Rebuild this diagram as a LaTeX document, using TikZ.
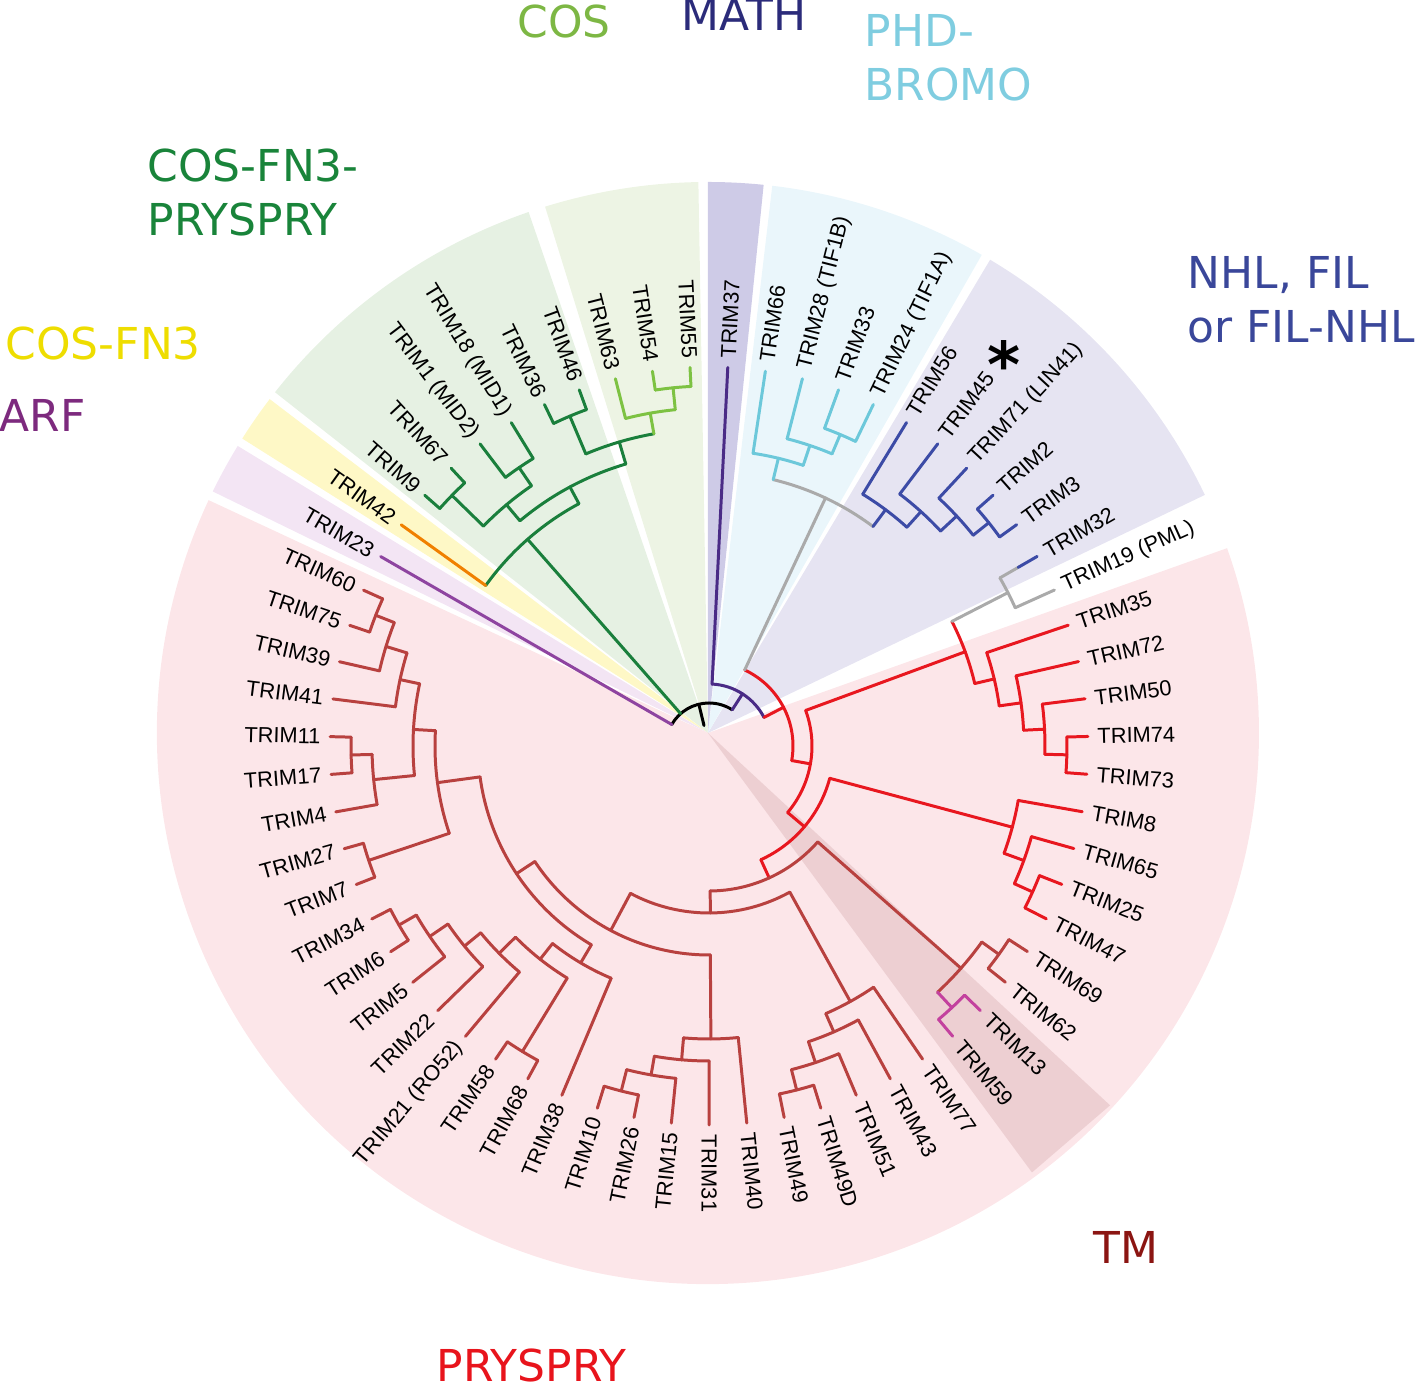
\documentclass[tikz,border=0pt]{standalone}
\usepackage{fontspec}
\setmainfont{Liberation Sans}
\newfontfamily\bigfont{DejaVu Sans}
\usetikzlibrary{calc}

\definecolor{bgpink}{HTML}{FCE6E9}
\definecolor{bgtm}{HTML}{EDCFD2}
\definecolor{bgarf}{HTML}{F3E5F4}
\definecolor{bgyel}{HTML}{FEF8C6}
\definecolor{bggrn}{HTML}{E6F1E3}
\definecolor{bgcos}{HTML}{EDF4E4}
\definecolor{bgmath}{HTML}{CECBE7}
\definecolor{bgphd}{HTML}{EAF6FB}
\definecolor{bgnhl}{HTML}{E6E4F2}
\definecolor{cgrn}{HTML}{1A7F3C}
\definecolor{clgrn}{HTML}{7DC242}
\definecolor{corg}{HTML}{F08000}
\definecolor{carf}{HTML}{8E44A0}
\definecolor{cmath}{HTML}{4A2B86}
\definecolor{ccyan}{HTML}{6CC8DA}
\definecolor{cgray}{HTML}{AAAAAA}
\definecolor{cblue}{HTML}{3C4BA6}
\definecolor{cred}{HTML}{E8171F}
\definecolor{cdred}{HTML}{B8413F}
\definecolor{cmag}{HTML}{C3419E}
\definecolor{tcos}{HTML}{7DB744}
\definecolor{tmath}{HTML}{2B2B7A}
\definecolor{tphd}{HTML}{7FCDE0}
\definecolor{tgrn}{HTML}{19843A}
\definecolor{tyel}{HTML}{EEDD00}
\definecolor{tarf}{HTML}{7D2A7E}
\definecolor{tnhl}{HTML}{3A479A}
\definecolor{ttm}{HTML}{8B1512}
\definecolor{tred}{HTML}{E8141C}

\tikzset{
	br/.style={line width=0.85pt, line cap=round},
	lbl/.style={inner sep=0pt, font=\fontsize{6.2}{7}\selectfont},
	group/.style={inner sep=0pt, align=left, font=\bigfont\fontsize{12.5}{15.4}\selectfont}
}

% leaf k sits at angle 92.87 - k*360/63
\def\kang#1{92.87-5.7143*(#1)}
\def\sector#1#2#3{\fill[#1] (W) -- ++(#2:551) arc[start angle=#2, end angle=#3, radius=551] -- cycle;}
\newcommand\clade[4][]{\pgfmathsetmacro\ca{\kang{#2}}\pgfmathsetmacro\cb{\kang{#3}}\draw[br,#1] (\ca:#4) arc[start angle=\ca, end angle=\cb, radius=#4];}
\newcommand\stem[4][]{\pgfmathsetmacro\sa{\kang{#2}}\draw[br,#1] (\sa:#3) -- (\sa:#4);}
\newcommand\leaf[5][]{\pgfmathsetmacro\la{\kang{#2}}\pgfmathtruncatemacro\rs{cos(\la)>0}%
	\draw[br,#1] (\la:#3) -- (\la:379) coordinate (#4tip);%
	\ifnum\rs=1 \node[lbl, rotate=\la, anchor=west] (#4) at (\la:388) {#5};%
	\else \node[lbl, rotate=\la+180, anchor=east] (#4) at (\la:388) {#5};\fi}

\begin{document}
\begin{tikzpicture}[x=0.01cm, y=0.01cm]
		%%%%% START %%%%%
		\useasboundingbox (-709,-642) rectangle (708,746);
		\coordinate (W) at (-1,13);
		
		\sector{bgnhl}{25.6}{59.2}
		\sector{bgphd}{60.2}{83.3}
		\sector{bgmath}{84.2}{90.0}
		\sector{bgcos}{91.0}{107.2}
		\sector{bggrn}{109.0}{141.8}
		\sector{bgyel}{142.7}{147.7}
		\sector{bgarf}{148.6}{154.0}
		\sector{bgpink}{155.0}{379.6}
		\fill[bgtm] (W) -- ($(W)+(-53.6:546)$) -- ($(W)+(-42.8:548)$) -- cycle;
		
		% root
		\clade[black]{53}{69.227}{43}
		\stem[black]{61.11}{21}{43}
		\leaf[carf]{53}{43}{TRIM23}{TRIM23}
		
		% COS-FN3, COS-FN3-PRYSPRY, COS
		\stem[cgrn]{56.28}{43}{275}
		\clade[cgrn]{54}{58.5625}{275}
		\leaf[corg]{54}{275}{TRIM42}{TRIM42}
		\stem[cgrn]{58.5625}{275}{294}
		\clade[cgrn]{56.5}{60.625}{294}
		\stem[cgrn]{56.5}{294}{315}
		\clade[cgrn]{55.5}{57.5}{315}
		\stem[cgrn]{55.5}{315}{359}
		\clade[cgrn]{55}{56}{359}
		\leaf[cgrn]{55}{359}{TRIM9}{TRIM9}
		\leaf[cgrn]{56}{359}{TRIM67}{TRIM67}
		\stem[cgrn]{57.5}{315}{337}
		\clade[cgrn]{57}{58}{337}
		\leaf[cgrn]{57}{337}{TRIM1}{TRIM1 (MID2)}
		\leaf[cgrn]{58}{337}{TRIM18}{TRIM18 (MID1)}
		\stem[cgrn]{60.625}{294}{317}
		\clade[cgrn]{59.5}{61.75}{317}
		\stem[cgrn]{59.5}{317}{358}
		\clade[cgrn]{59}{60}{358}
		\leaf[cgrn]{59}{358}{TRIM36}{TRIM36}
		\leaf[cgrn]{60}{358}{TRIM46}{TRIM46}
		\stem[clgrn]{61.75}{317}{338}
		\clade[clgrn]{61}{62.5}{338}
		\leaf[clgrn]{61}{338}{TRIM63}{TRIM63}
		\stem[clgrn]{62.5}{338}{360}
		\clade[clgrn]{62}{63}{360}
		\leaf[clgrn]{62}{360}{TRIM54}{TRIM54}
		\leaf[clgrn]{63}{360}{TRIM55}{TRIM55}
		
		% MATH
		\stem[cmath]{69.227}{43}{62}
		\clade[cmath]{1}{11.45}{62}
		\leaf[cmath]{1}{62}{TRIM37}{TRIM37}
		\stem[cred]{11.45}{62}{84}
		\clade[cred]{4.906}{18}{84}
		\stem[cgray]{4.906}{84}{274}
		\clade[cgray]{2.875}{6.9375}{274}
		
		% PHD-BROMO
		\stem[ccyan]{2.875}{274}{296}
		\clade[ccyan]{2}{3.75}{296}
		\leaf[ccyan]{2}{296}{TRIM66}{TRIM66}
		\stem[ccyan]{3.75}{296}{317}
		\clade[ccyan]{3}{4.5}{317}
		\leaf[ccyan]{3}{317}{TRIM28}{TRIM28 (TIF1B)}
		\stem[ccyan]{4.5}{317}{338}
		\clade[ccyan]{4}{5}{338}
		\leaf[ccyan]{4}{338}{TRIM33}{TRIM33}
		\leaf[ccyan]{5}{338}{TRIM24}{TRIM24 (TIF1A)}
		
		% NHL, FIL
		\stem[cblue]{6.9375}{274}{295}
		\clade[cblue]{6}{7.875}{295}
		\leaf[cblue]{6}{295}{TRIM56}{TRIM56}
		\stem[cblue]{7.875}{295}{316}
		\clade[cblue]{7}{8.75}{316}
		\leaf[cblue]{7}{316}{TRIM45}{TRIM45}
		\stem[cblue]{8.75}{316}{338}
		\clade[cblue]{8}{9.5}{338}
		\leaf[cblue]{8}{338}{TRIM71}{TRIM71 (LIN41)}
		\stem[cblue]{9.5}{338}{358}
		\clade[cblue]{9}{10}{358}
		\leaf[cblue]{9}{358}{TRIM2}{TRIM2}
		\leaf[cblue]{10}{358}{TRIM3}{TRIM3}
		
		% PRYSPRY
		\stem[cred]{18}{84}{103}
		\clade[cred]{12.71875}{23.29}{103}
		\stem[cred]{12.71875}{103}{273}
		\clade[cred]{11.5}{13.9375}{273}
		\stem[cgray]{11.5}{273}{336}
		\clade[cgray]{11}{12}{336}
		\stem[cgray]{11}{336}{357}
		\leaf[cblue]{11}{357}{TRIM32}{TRIM32}
		\leaf[cgray]{12}{336}{TRIM19}{TRIM19 (PML)}
		\stem[cred]{13.9375}{273}{293}
		\clade[cred]{13}{14.875}{293}
		\leaf[cred]{13}{293}{TRIM35}{TRIM35}
		\stem[cred]{14.875}{293}{315}
		\clade[cred]{14}{15.75}{315}
		\leaf[cred]{14}{315}{TRIM72}{TRIM72}
		\stem[cred]{15.75}{315}{336}
		\clade[cred]{15}{16.5}{336}
		\leaf[cred]{15}{336}{TRIM50}{TRIM50}
		\stem[cred]{16.5}{336}{358}
		\clade[cred]{16}{17}{358}
		\leaf[cred]{16}{358}{TRIM74}{TRIM74}
		\leaf[cred]{17}{358}{TRIM73}{TRIM73}
		\stem[cred]{23.29}{103}{125}
		\clade[cred]{18.875}{27.71}{125}
		\stem[cred]{18.875}{125}{314}
		\clade[cred]{18}{19.75}{314}
		\leaf[cred]{18}{314}{TRIM8}{TRIM8}
		\stem[cred]{19.75}{314}{335}
		\clade[cred]{19}{20.5}{335}
		\leaf[cred]{19}{335}{TRIM65}{TRIM65}
		\stem[cred]{20.5}{335}{355}
		\clade[cred]{20}{21}{355}
		\leaf[cred]{20}{355}{TRIM25}{TRIM25}
		\leaf[cred]{21}{355}{TRIM47}{TRIM47}
		\stem[cred]{27.71}{125}{145}
		\clade[cdred]{23.5}{31.92}{145}
		
		% TM
		\stem[cdred]{23.5}{145}{336}
		\clade[cdred]{22.5}{24.5}{336}
		\stem[cdred]{22.5}{336}{357}
		\clade[cdred]{22}{23}{357}
		\leaf[cdred]{22}{357}{TRIM69}{TRIM69}
		\leaf[cdred]{23}{357}{TRIM62}{TRIM62}
		\stem[cmag]{24.5}{336}{357}
		\clade[cmag]{24}{25}{357}
		\leaf[cmag]{24}{357}{TRIM13}{TRIM13}
		\leaf[cmag]{25}{357}{TRIM59}{TRIM59}
		
		\stem[cdred]{31.92}{145}{167}
		\clade[cdred]{26.9375}{36.91}{167}
		\stem[cdred]{26.9375}{167}{292}
		\clade[cdred]{26}{27.875}{292}
		\leaf[cdred]{26}{292}{TRIM77}{TRIM77}
		\stem[cdred]{27.875}{292}{312}
		\clade[cdred]{27}{28.75}{312}
		\leaf[cdred]{27}{312}{TRIM43}{TRIM43}
		\stem[cdred]{28.75}{312}{334}
		\clade[cdred]{28}{29.5}{334}
		\leaf[cdred]{28}{334}{TRIM51}{TRIM51}
		\stem[cdred]{29.5}{334}{355}
		\clade[cdred]{29}{30}{355}
		\leaf[cdred]{29}{355}{TRIM49D}{TRIM49D}
		\leaf[cdred]{30}{355}{TRIM49}{TRIM49}
		
		\stem[cdred]{36.91}{167}{209}
		\clade[cdred]{31.9375}{41.88}{209}
		\stem[cdred]{31.9375}{209}{293}
		\clade[cdred]{31}{32.875}{293}
		\leaf[cdred]{31}{293}{TRIM40}{TRIM40}
		\stem[cdred]{32.875}{293}{315}
		\clade[cdred]{32}{33.75}{315}
		\leaf[cdred]{32}{315}{TRIM31}{TRIM31}
		\stem[cdred]{33.75}{315}{334}
		\clade[cdred]{33}{34.5}{334}
		\leaf[cdred]{33}{334}{TRIM15}{TRIM15}
		\stem[cdred]{34.5}{334}{356}
		\clade[cdred]{34}{35}{356}
		\leaf[cdred]{34}{356}{TRIM26}{TRIM26}
		\leaf[cdred]{35}{356}{TRIM10}{TRIM10}
		
		\stem[cdred]{41.88}{209}{231}
		\clade[cdred]{37.359}{46.406}{231}
		\stem[cdred]{37.359}{231}{252}
		\clade[cdred]{36}{38.71875}{252}
		\leaf[cdred]{36}{252}{TRIM38}{TRIM38}
		\stem[cdred]{38.71875}{252}{272}
		\clade[cdred]{37.5}{39.9375}{272}
		\stem[cdred]{37.5}{272}{358}
		\clade[cdred]{37}{38}{358}
		\leaf[cdred]{37}{358}{TRIM68}{TRIM68}
		\leaf[cdred]{38}{358}{TRIM58}{TRIM58}
		\stem[cdred]{39.9375}{272}{295}
		\clade[cdred]{39}{40.875}{295}
		\leaf[cdred]{39}{295}{TRIM21}{TRIM21 (RO52)}
		\stem[cdred]{40.875}{295}{316}
		\clade[cdred]{40}{41.75}{316}
		\leaf[cdred]{40}{316}{TRIM22}{TRIM22}
		\stem[cdred]{41.75}{316}{338}
		\clade[cdred]{41}{42.5}{338}
		\leaf[cdred]{41}{338}{TRIM5}{TRIM5}
		\stem[cdred]{42.5}{338}{358}
		\clade[cdred]{42}{43}{358}
		\leaf[cdred]{42}{358}{TRIM6}{TRIM6}
		\leaf[cdred]{43}{358}{TRIM34}{TRIM34}
		
		\stem[cdred]{46.406}{231}{274}
		\clade[cdred]{44.5}{48.3125}{274}
		\stem[cdred]{44.5}{274}{359}
		\clade[cdred]{44}{45}{359}
		\leaf[cdred]{44}{359}{TRIM7}{TRIM7}
		\leaf[cdred]{45}{359}{TRIM27}{TRIM27}
		\stem[cdred]{48.3125}{274}{296}
		\clade[cdred]{46.75}{49.875}{296}
		\stem[cdred]{46.75}{296}{337}
		\clade[cdred]{46}{47.5}{337}
		\leaf[cdred]{46}{337}{TRIM4}{TRIM4}
		\stem[cdred]{47.5}{337}{358}
		\clade[cdred]{47}{48}{358}
		\leaf[cdred]{47}{358}{TRIM17}{TRIM17}
		\leaf[cdred]{48}{358}{TRIM11}{TRIM11}
		\stem[cdred]{49.875}{296}{316}
		\clade[cdred]{49}{50.75}{316}
		\leaf[cdred]{49}{316}{TRIM41}{TRIM41}
		\stem[cdred]{50.75}{316}{338}
		\clade[cdred]{50}{51.5}{338}
		\leaf[cdred]{50}{338}{TRIM39}{TRIM39}
		\stem[cdred]{51.5}{338}{358}
		\clade[cdred]{51}{52}{358}
		\leaf[cdred]{51}{358}{TRIM75}{TRIM75}
		\leaf[cdred]{52}{358}{TRIM60}{TRIM60}
		
		\node[inner sep=0pt, font=\bigfont\bfseries\fontsize{18}{18}\selectfont] (star) at (295,382) {*};
		
		% group names
		\node[group, tcos, anchor=base west] (cos) at (-192,708) {COS};
		\node[group, tmath, anchor=base west] (math) at (-28,715) {MATH};
		\node[group, tphd, anchor=north west] (phd) at (155,732) {PHD-\\BROMO};
		\node[group, tgrn, anchor=north west] (cosfnpry) at (-562,598) {COS-FN3-\\PRYSPRY};
		\node[group, tyel, anchor=base west] (cosfn) at (-704,386) {COS-FN3};
		\node[group, tarf, anchor=base west] (arf) at (-710,314) {ARF};
		\node[group, tnhl, anchor=north west] (nhl) at (478,490) {NHL, FIL\\or FIL-NHL};
		\node[group, ttm, anchor=base west] (tm) at (384,-518) {TM};
		\node[group, tred, anchor=base west] (pry) at (-273,-636) {PRYSPRY};
		
		%%%%% END %%%%%
	\end{tikzpicture}
\end{document}
